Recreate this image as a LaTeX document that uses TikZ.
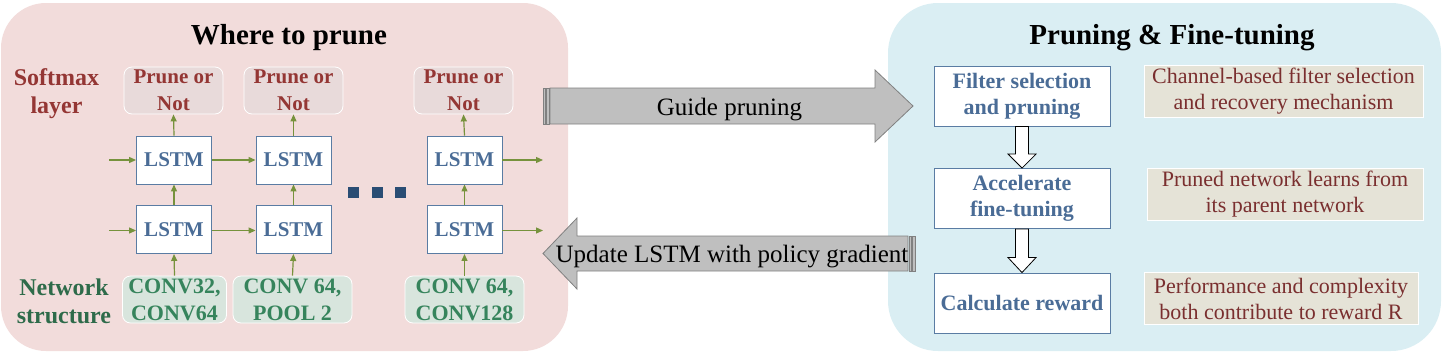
\documentclass[tikz,border=0pt]{standalone}
\usepackage{fontspec}
\setmainfont{Liberation Serif}
\usetikzlibrary{arrows.meta,calc}
\definecolor{pinkbg}{HTML}{F2DCDB}
\definecolor{bluebg}{HTML}{DAEEF3}
\definecolor{prunefill}{HTML}{E8DADA}
\definecolor{convfill}{HTML}{D8E5DD}
\definecolor{beige}{HTML}{E5E3D7}
\definecolor{lstmtext}{HTML}{4A6C96}
\definecolor{lstmborder}{HTML}{5A7CA3}
\definecolor{softred}{HTML}{943634}
\definecolor{convgreen}{HTML}{36845C}
\definecolor{netgreen}{HTML}{2E6B4A}
\definecolor{notered}{HTML}{7A2F2F}
\definecolor{olive}{HTML}{76923C}
\definecolor{dotc}{HTML}{2A4D74}
\definecolor{arrowgrey}{HTML}{BFBFBF}
\definecolor{arrowedge}{HTML}{808080}
\begin{document}
\begin{tikzpicture}[x=1pt,y=-1pt,
  titletext/.style={font=\fontsize{29}{33}\selectfont\bfseries, text=black, inner sep=0},
  sidetext/.style={font=\fontsize{24}{28}\selectfont\bfseries, align=center, inner sep=0},
  lstmbox/.style={draw=lstmborder, line width=0.9pt, fill=white, minimum width=75pt, minimum height=48pt,
    font=\fontsize{21}{24}\selectfont\bfseries, text=lstmtext, inner sep=0},
  prunebox/.style={draw=white, line width=0.8pt, fill=prunefill, rounded corners=8pt, minimum width=99pt,
    minimum height=47pt, font=\fontsize{21}{27}\selectfont\bfseries, text=softred, align=center, inner sep=0},
  convbox/.style={draw=white, line width=0.8pt, fill=convfill, rounded corners=8pt, minimum height=47pt,
    font=\fontsize{22}{27}\selectfont\bfseries, text=convgreen, align=center, inner sep=0},
  stepbox/.style={draw=lstmborder, line width=0.9pt, fill=white, minimum width=176pt, minimum height=60pt,
    font=\fontsize{22}{26}\selectfont\bfseries, text=lstmtext, align=center, inner sep=0},
  notebox/.style={draw=white, line width=0.8pt, fill=beige, minimum height=52pt,
    font=\fontsize{22}{26}\selectfont, text=notered, align=center, inner sep=0},
  flow/.style={draw=olive, line width=1.2pt, -{Triangle[length=7pt,width=6pt]}},
  whitearrow/.style={draw=black, fill=white, line width=0.8pt, line join=miter},
  greyarrow/.style={draw=arrowedge, fill=arrowgrey, line width=0.8pt, line join=miter},
  arrowtext/.style={font=\fontsize{25}{28}\selectfont, text=black, inner sep=0}
]
\useasboundingbox (0,0) rectangle (1443,357);

% panels
\fill[pinkbg, rounded corners=45pt] (1,3) rectangle (568,351);
\fill[bluebg, rounded corners=50pt] (888,3) rectangle (1441,351);

% titles
\node[titletext, anchor=base] (t1) at (289,44) {Where to prune};
\node[titletext, anchor=base] (t2) at (1172,44) {Pruning \& Fine-tuning};

% side labels
\node[sidetext, text=softred] (sm) at (56.5,94) {Softmax\\layer};
\node[sidetext, text=netgreen] (ns) at (64,301.5) {Network\\structure};

% prune boxes
\node[prunebox] (p1) at (173.5,90.5) {Prune or\\Not};
\node[prunebox] (p2) at (293.5,90.5) {Prune or\\Not};
\node[prunebox] (p3) at (463.5,90.5) {Prune or\\Not};

% LSTM rows
\node[lstmbox] (a1) at (174,160) {LSTM};
\node[lstmbox] (a2) at (293.5,160) {LSTM};
\node[lstmbox] (a3) at (464.5,160) {LSTM};
\node[lstmbox] (b1) at (174,229.5) {LSTM};
\node[lstmbox] (b2) at (293.5,229.5) {LSTM};
\node[lstmbox] (b3) at (464.5,229.5) {LSTM};

% conv boxes
\node[convbox, minimum width=104pt] (c1) at (174.5,299.5) {CONV32,\\CONV64};
\node[convbox, minimum width=119pt] (c2) at (292.5,299.5) {CONV 64,\\POOL 2};
\node[convbox, minimum width=119pt] (c3) at (464.5,299.5) {CONV 64,\\CONV128};

% dots
\fill[dotc] (348,187) rectangle ++(11,11);
\fill[dotc] (372,187) rectangle ++(11,11);
\fill[dotc] (395,187) rectangle ++(11,11);

% connectors
\coordinate (ina) at (109,160);
\coordinate (inb) at (109,230.5);
\coordinate (outa) at (543,160);
\coordinate (outb) at (543,230.5);
\draw[flow] (ina) -- (a1.west);
\draw[flow] (a1.east) -- (a2.west);
\draw[flow] (a3.east) -- (outa);
\draw[flow] (inb) -- (inb -| b1.west);
\draw[flow] (inb -| b1.east) -- (inb -| b2.west);
\draw[flow] (inb -| b3.east) -- (outb);
\foreach \i in {1,2,3}{
  \draw[flow] (c\i.north) -- (b\i.south);
  \draw[flow] (b\i.north) -- (a\i.south);
  \draw[flow] (a\i.north) -- (p\i.south);
}

% right steps
\node[stepbox] (f) at (1022,96) {Filter selection\\and pruning};
\node[stepbox] (g) at (1022,198.5) {Accelerate\\fine-tuning};
\node[stepbox] (h) at (1022,303) {Calculate reward};

\node[notebox, minimum width=279pt] (n1) at (1283.5,91) {Channel-based filter selection\\and recovery mechanism};
\node[notebox, minimum width=276pt] (n2) at (1285,194) {Pruned network learns from\\its parent network};
\node[notebox, minimum width=274pt] (n3) at (1281,298.5) {Performance and complexity\\both contribute to reward R};

% white block arrows
\draw[whitearrow] ($(f.south)+(-6.5,0)$) -- ($(g.north)+(-6.5,-14)$) -- ($(g.north)+(-14,-14)$)
  -- (g.north) -- ($(g.north)+(14,-14)$) -- ($(g.north)+(6.5,-14)$) -- ($(f.south)+(6.5,0)$) -- cycle;
\draw[whitearrow] ($(g.south)+(-6.5,0)$) -- ($(h.north)+(-6.5,-15)$) -- ($(h.north)+(-14,-15)$)
  -- (h.north) -- ($(h.north)+(14,-15)$) -- ($(h.north)+(6.5,-15)$) -- ($(g.south)+(6.5,0)$) -- cycle;

% grey striped arrows
\draw[greyarrow] (543,88) rectangle (545.5,124);
\draw[greyarrow] (546.5,88) rectangle (549,124);
\draw[greyarrow] (550,88) -- (875,88) -- (875,70) -- (913,106) -- (875,142) -- (875,124) -- (550,124) -- cycle;
\node[arrowtext, anchor=base] (gp) at (729.5,115) {Guide pruning};

\draw[greyarrow] (915,236) rectangle (912.5,271);
\draw[greyarrow] (911.5,236) rectangle (909,271);
\draw[greyarrow] (908,236) -- (577,236) -- (577,218) -- (543,253.5) -- (577,289) -- (577,271) -- (908,271) -- cycle;
\node[arrowtext, anchor=base] (up) at (732,262) {Update LSTM with policy gradient};
\end{tikzpicture}
\end{document}
